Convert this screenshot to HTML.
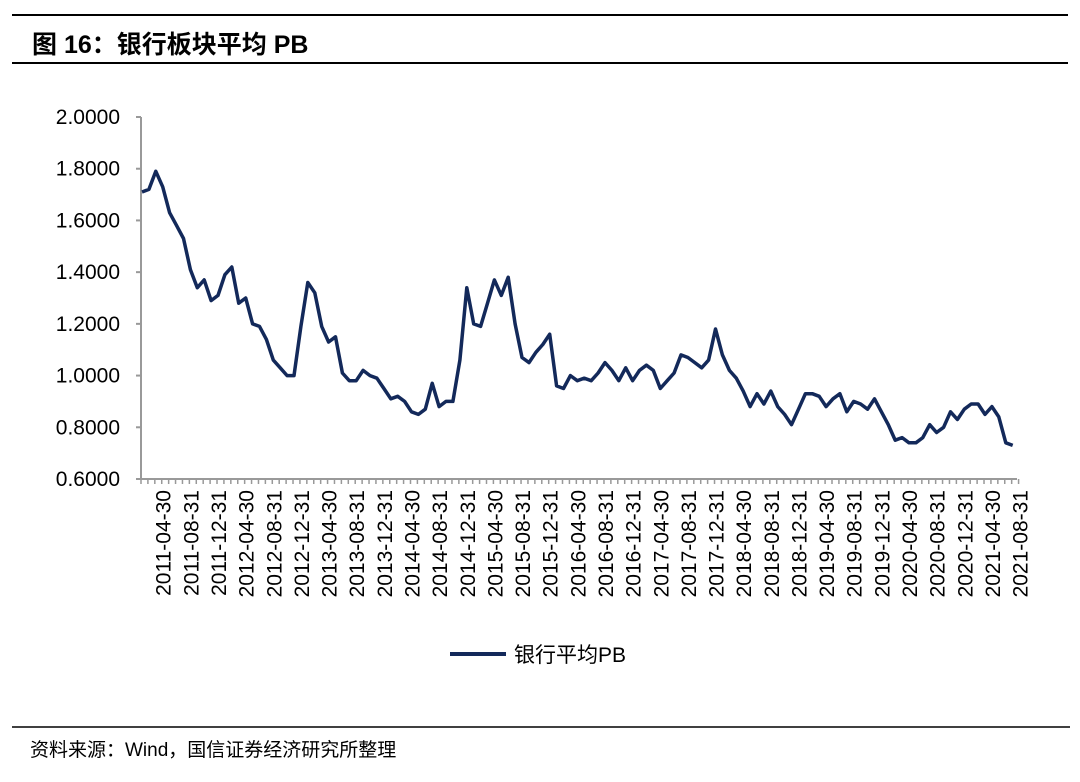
<!DOCTYPE html>
<html><head><meta charset="utf-8"><style>
body{margin:0;background:#fff;width:1080px;height:777px;overflow:hidden;font-family:"Liberation Sans","Noto Sans CJK SC",sans-serif}
</style></head><body>
<svg width="1080" height="777" xmlns="http://www.w3.org/2000/svg">
<line x1="12" y1="15" x2="1068" y2="15" stroke="#000" stroke-width="2"/>
<text x="32" y="53" font-size="25" font-weight="bold" font-family="Liberation Sans, Noto Sans CJK SC, sans-serif">图 16：银行板块平均 PB</text>
<line x1="12" y1="63" x2="1068" y2="63" stroke="#000" stroke-width="2"/>
<g id="yaxis"></g>
<g id="xaxis"></g>
<path id="series" fill="none" stroke="#13295a" stroke-width="3.5" stroke-linejoin="round"/>
<g>
<line x1="450" y1="654" x2="506" y2="654" stroke="#13295a" stroke-width="4"/>
<text x="514" y="662" font-size="21">银行平均PB</text>
</g>
<line x1="12" y1="727" x2="1070" y2="727" stroke="#000" stroke-width="1.5"/>
<text x="30" y="756" font-size="19">资料来源：Wind，国信证券经济研究所整理</text>
</svg>
<script>
const yTicks=[0.6,0.8,1.0,1.2,1.4,1.6,1.8,2.0];
const xLabels=[];
for(let y=2011;y<=2021;y++){for(const m of ["04-30","08-31","12-31"]){if(y===2021&&m==="12-31")continue;xLabels.push(y+"-"+m);}}
const values=[1.71,1.72,1.79,1.73,1.63,1.58,1.53,1.41,1.34,1.37,1.29,1.31,
1.39,1.42,1.28,1.30,1.20,1.19,1.14,1.06,1.03,1.00,1.00,1.19,
1.36,1.32,1.19,1.13,1.15,1.01,0.98,0.98,1.02,1.00,0.99,0.95,
0.91,0.92,0.90,0.86,0.85,0.87,0.97,0.88,0.90,0.90,1.06,1.34,
1.20,1.19,1.28,1.37,1.31,1.38,1.20,1.07,1.05,1.09,1.12,1.16,
0.96,0.95,1.00,0.98,0.99,0.98,1.01,1.05,1.02,0.98,1.03,0.98,
1.02,1.04,1.02,0.95,0.98,1.01,1.08,1.07,1.05,1.03,1.06,1.18,
1.08,1.02,0.99,0.94,0.88,0.93,0.89,0.94,0.88,0.85,0.81,0.87,
0.93,0.93,0.92,0.88,0.91,0.93,0.86,0.90,0.89,0.87,0.91,0.86,
0.81,0.75,0.76,0.74,0.74,0.76,0.81,0.78,0.80,0.86,0.83,0.87,
0.89,0.89,0.85,0.88,0.84,0.74,0.73];
const NS="http://www.w3.org/2000/svg";
const x0=141,x1=1017,y0=479,y1=117,vmin=0.6,vmax=2.0;
const step=6.91, first=142;
const xs=i=>first+i*step;
const ys=v=>y0-(v-vmin)/(vmax-vmin)*(y0-y1);
const ya=document.getElementById('yaxis'),xa=document.getElementById('xaxis');
function mk(t,a,p){const e=document.createElementNS(NS,t);for(const k in a)e.setAttribute(k,a[k]);p.appendChild(e);return e;}
const yl=mk('line',{x1:x0,y1:y1,x2:x0,y2:y0,stroke:'#999','stroke-width':2},ya);


yTicks.forEach(v=>{
 const t=mk('line',{x1:x0-5,y1:ys(v),x2:x0,y2:ys(v),stroke:'#999','stroke-width':2},ya);
 
 
 const tx=mk('text',{x:120,y:ys(v)+7,'font-size':21,'text-anchor':'end'},ya);
 tx.textContent=v.toFixed(4);
 
 
});
const xl=mk('line',{x1:x0,y1:y0,x2:x1,y2:y0,stroke:'#999','stroke-width':2},xa);


for(let i=0;i<=values.length;i++){
 const t=mk('line',{x1:x0+i*step,y1:y0,x2:x0+i*step,y2:y0+5,stroke:'#999','stroke-width':1.5},xa);
 
 
}
xLabels.forEach((s,j)=>{
 const x=xs(3+j*4)+8;
 const tx=mk('text',{x:x,y:490,'font-size':21,'text-anchor':'end',transform:`rotate(-90 ${x} 490)`},xa);
 tx.textContent=s;
 
 
});
document.getElementById('series').setAttribute('d',values.map((v,i)=>(i?'L':'M')+xs(i).toFixed(1)+','+ys(v).toFixed(1)).join(''));
</script>
</body></html>
